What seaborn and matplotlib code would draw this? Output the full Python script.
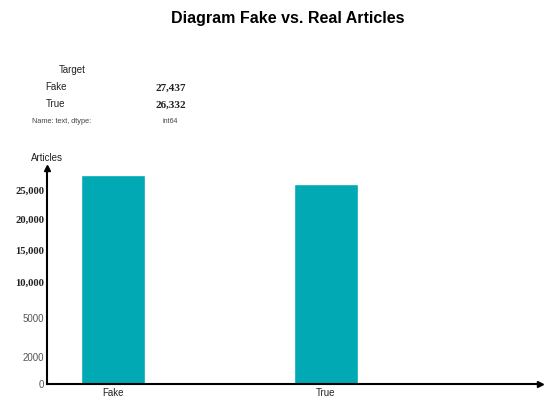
import pandas as pd
import matplotlib.pyplot as plt
import seaborn as sns

# Data

labels = ["Fake", "True"]
counts = [27437, 26332]

tick_labels = ["0", "2000", "5000", "10,000", "15,000", "20,000", "25,000"]
# tick label heights as drawn in the diagram (in article units)
tick_pos = [0, 3550, 8700, 13300, 17600, 21700, 25400]

df = pd.DataFrame({"Target": labels, "Articles": counts})

bar_color = "#00A9B4"

#-----------------------PLOTTING-------------------------------

sns.set_style("white")
plt.rcParams['font.family'] = ['Liberation Sans', 'DejaVu Sans']
plt.rcParams['text.color'] = "#222222"

fig = plt.figure(figsize = (5.5, 4.07), dpi = 100)
ax = fig.add_axes([47/550, 23/407, 493/550, 216/407])

sns.barplot(data = df, x = "Target", y = "Articles", color = bar_color,
            width = 0.30, saturation = 1, ax = ax)

ax.set_xlim(-0.31, 2.005)
ax.set_ylim(0, 28380)

for side in ["top", "right"]:
    ax.spines[side].set_visible(False)
for side in ["left", "bottom"]:
    ax.spines[side].set_color("black")
    ax.spines[side].set_linewidth(1.5)

# arrow heads
ax.plot(1, 0, ">k", markersize = 5, transform = ax.transAxes, clip_on = False)
ax.plot(0, 1, "^k", markersize = 5, transform = ax.transAxes, clip_on = False)

ax.set_yticks(tick_pos)
ax.set_yticklabels(tick_labels)
ax.tick_params(axis = "both", length = 0)
ax.tick_params(axis = "y", pad = 2)
ax.tick_params(axis = "x", labelsize = 7, pad = 3, labelcolor = "#222222")

# small values are in plain sans, big ones in bold serif
for lab in ax.get_yticklabels():
    if "," in lab.get_text():
        lab.set_fontfamily("Liberation Serif")
        lab.set_fontweight("bold")
        lab.set_fontsize(7.6)
        lab.set_color("#222222")
    else:
        lab.set_fontsize(7)
        lab.set_color("#555555")

ax.set_xlabel("")
ax.set_ylabel("")

ax.text(0, 1.025, "Articles", transform = ax.transAxes, ha = "center", va = "bottom",
        fontsize = 7)

fig.suptitle("Diagram Fake vs. Real Articles", x = 288/550, y = 1 - 19/407, va = "center",
             fontsize = 11.5, fontweight = "bold", color = "black")

# value table
fig.text(72/550, 1 - 70/407, "Target", ha = "center", va = "center", fontsize = 7)
for i, (lab, val) in enumerate(zip(labels, counts)):
    y = 1 - (87 + 17 * i)/407
    fig.text(56/550, y, lab, ha = "center", va = "center", fontsize = 7)
    fig.text(171/550, y - 1/407, f"{val:,}", ha = "center", va = "center", fontsize = 8,
             fontfamily = "Liberation Serif", fontweight = "bold")
fig.text(62/550, 1 - 122/407, "Name: text, dtype:", ha = "center", va = "center",
         fontsize = 5.3, color = "#444444")
fig.text(170/550, 1 - 122/407, "int64", ha = "center", va = "center",
         fontsize = 5, color = "#444444")

plt.savefig("out.png", dpi = 100)
